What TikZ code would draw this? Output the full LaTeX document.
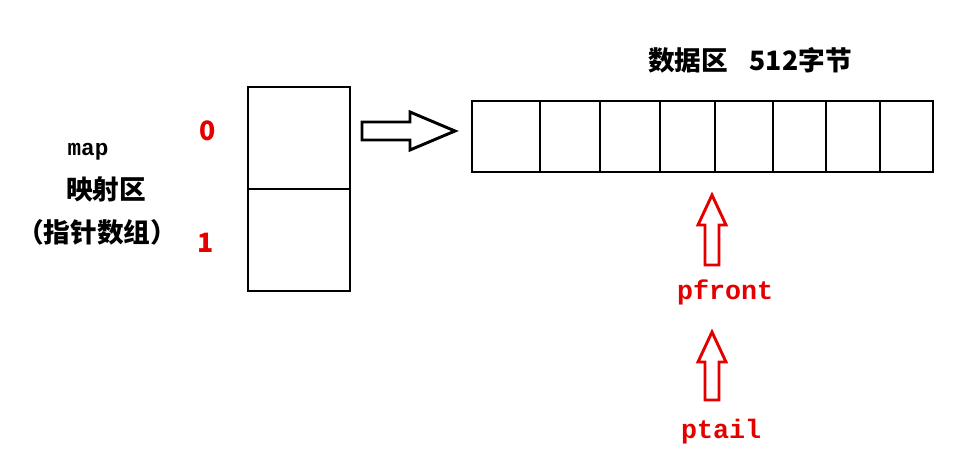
\documentclass[tikz,border=0pt]{standalone}
\usepackage{fontspec}
\setmainfont{Noto Sans CJK SC}
\newfontfamily\monof{Liberation Mono}
\begin{document}
\begin{tikzpicture}[x=0.75pt,y=-0.75pt,
  box/.style={draw,line width=2.2pt},
  harrow/.style={draw,line width=2.2pt,line join=miter},
  redharrow/.style={draw=red!90!black,line width=2.2pt,line join=miter},
  lbl/.style={font=\bfseries\fontsize{20}{24}\selectfont},
  mono/.style={font=\monof\bfseries\fontsize{20}{24}\selectfont},
  red/.style={text=red!90!black}]
\useasboundingbox (0,0) rectangle (969,466);
\node[box,minimum width=76.5pt,minimum height=76.5pt,inner sep=0] (m0) at (299,138) {};
\node[box,minimum width=76.5pt,minimum height=76.5pt,inner sep=0] (m1) at (299,240) {};
\foreach \a/\b [count=\i] in {472/540,540/600,600/660,660/715,715/773,773/826,826/880,880/933}{
  \node[box,minimum width={(\b-\a)*0.75pt},minimum height=53.25pt,inner sep=0] (d\i) at ({(\a+\b)/2},136.5) {};
}
\draw[harrow] (362,122) -- (410,122) -- (410,112) -- (455,131) -- (410,150) -- (410,140) -- (362,140) -- cycle;
\draw[redharrow] (705,265) -- (705,225) -- (698,225) -- (712,195) -- (726,225) -- (719,225) -- (719,265) -- cycle;
\draw[redharrow] (705,400) -- (705,362) -- (698,362) -- (712,332) -- (726,362) -- (719,362) -- (719,400) -- cycle;
\node[mono,font=\monof\bfseries\fontsize{17}{20}\selectfont] (tmap) at (88,152) {map};
\node[lbl] (tys) at (106,189) {映射区};
\node[lbl] (tzz) at (97,232) {（指针数组）};
\node[lbl,red] (t0) at (208,131) {0};
\node[lbl,red] (t1) at (206,243) {1};
\node[lbl] (tdata) at (750,60) {数据区\hspace{0.8em}512字节};
\node[mono,red] (tpf) at (725,292) {pfront};
\node[mono,red] (tpt) at (721,432) {ptail};
\end{tikzpicture}
\end{document}
